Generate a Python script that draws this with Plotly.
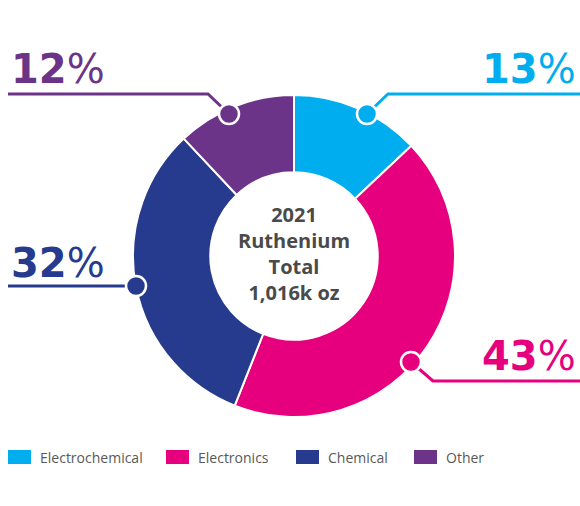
import plotly.graph_objects as go

# Data
categories = ["Electrochemical", "Electronics", "Chemical", "Other"]
shares = [13, 43, 32, 12]
colors = ["#00AEEF", "#E6007E", "#263A8E", "#6C3489"]

W, H = 580, 506


def px(x):
    return x / W


def py(y):
    return 1 - y / H


# donut centre / radius in pixels
cx, cy, r = 294, 256, 161

fig = go.Figure()
fig.add_trace(go.Pie(
    labels=categories,
    values=shares,
    marker=dict(colors=colors, line=dict(color="white", width=2)),
    hole=0.52,
    sort=False,
    direction="clockwise",
    rotation=0,
    textinfo="none",
    hoverinfo="label+percent",
    showlegend=False,
    domain=dict(x=[px(cx - r), px(cx + r)], y=[py(cy + r), py(cy - r)]),
))

# leader lines: polyline points (pixels), label position
leaders = [
    dict(pts=[(367, 114), (388, 94), (580, 94)], lx=578, ly=69, xa="right"),
    dict(pts=[(411, 362), (433, 381), (580, 381)], lx=578, ly=356, xa="right"),
    dict(pts=[(136, 286), (8, 286)], lx=9, ly=263, xa="left"),
    dict(pts=[(229, 114), (208, 94), (8, 94)], lx=9, ly=69, xa="left"),
]
legend_x = [8, 166, 296, 414]
legend_y = 457

shapes = []
annotations = []
for cat, val, col, ld, lgx in zip(categories, shares, colors, leaders, legend_x):
    pts = ld["pts"]
    path = "M " + " L ".join(f"{px(x)},{py(y)}" for x, y in pts)
    shapes.append(dict(type="path", path=path, xref="paper", yref="paper",
                       line=dict(color=col, width=3), layer="above"))
    x0, y0 = pts[0]
    rr = 10
    shapes.append(dict(type="circle", xref="paper", yref="paper",
                       x0=px(x0 - rr), x1=px(x0 + rr), y0=py(y0 + rr), y1=py(y0 - rr),
                       fillcolor=col, line=dict(color="white", width=2.5), layer="above"))
    annotations.append(dict(
        text=f"<b>{val}</b>%", x=px(ld["lx"]), y=py(ld["ly"]),
        xref="paper", yref="paper", xanchor=ld["xa"], yanchor="middle",
        showarrow=False, font=dict(size=40, color=col, family="DejaVu Sans"),
    ))
    # legend entry
    shapes.append(dict(type="rect", xref="paper", yref="paper",
                       x0=px(lgx), x1=px(lgx + 23), y0=py(legend_y + 7), y1=py(legend_y - 7),
                       fillcolor=col, line=dict(width=0)))
    annotations.append(dict(
        text=cat, x=px(lgx + 30), y=py(legend_y), xref="paper", yref="paper",
        xanchor="left", yanchor="middle", showarrow=False,
        font=dict(size=14, color="#595959", family="Open Sans"),
    ))

annotations.append(dict(
    text="<b>2021<br>Ruthenium<br>Total<br>1,016k oz</b>",
    x=px(cx), y=py(cy - 3), xref="paper", yref="paper",
    showarrow=False, font=dict(size=20, color="#4A4A4A", family="Open Sans"),
))

fig.update_layout(
    width=W, height=H,
    margin=dict(l=0, r=0, t=0, b=0),
    paper_bgcolor="white",
    plot_bgcolor="white",
    shapes=shapes,
    annotations=annotations,
    showlegend=False,
)

fig.write_html("out.html", config={"displayModeBar": False},
               post_script="document.body.style.margin='0';")
